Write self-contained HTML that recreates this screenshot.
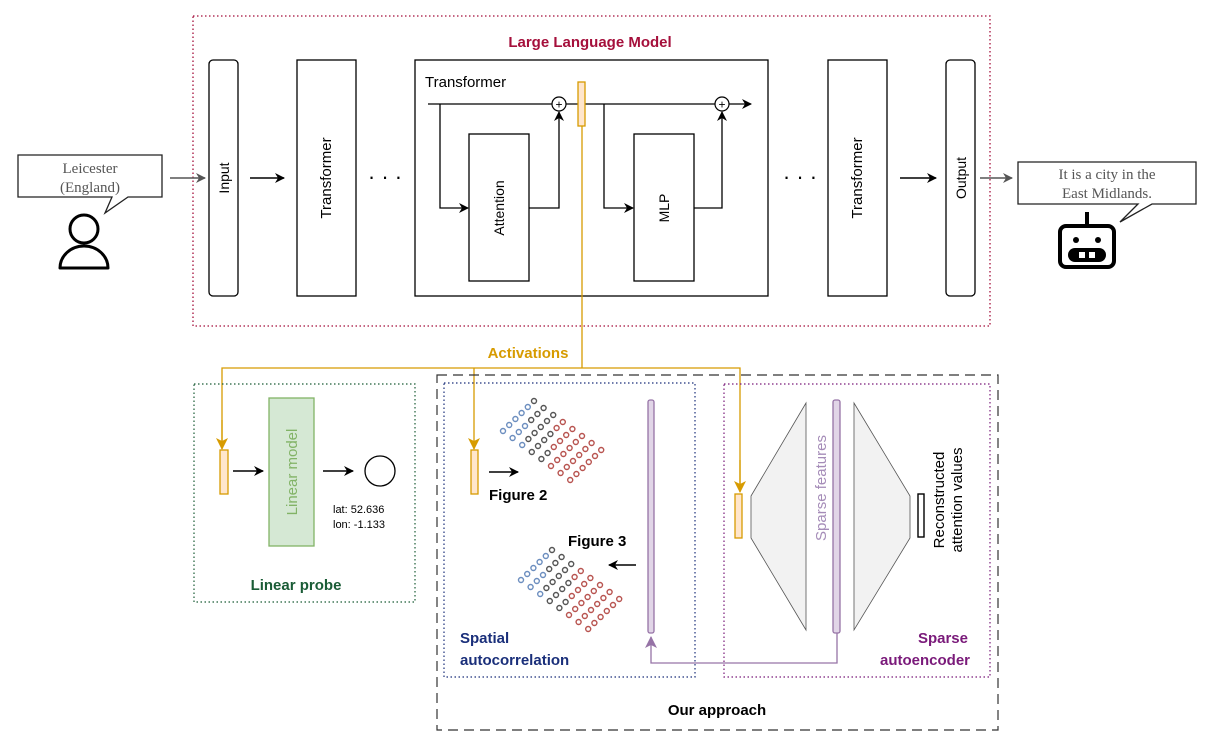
<!DOCTYPE html>
<html><head><meta charset="utf-8"><style>
html,body{margin:0;padding:0;background:#fff;}
svg{display:block;font-family:"Liberation Sans",Arial,sans-serif;}
</style></head><body>
<svg id="s" width="1214" height="749" viewBox="0 0 1214 749" xmlns="http://www.w3.org/2000/svg">
<defs>
<marker id="ab" markerWidth="10" markerHeight="10" refX="9" refY="5" orient="auto" markerUnits="userSpaceOnUse"><path d="M0,0 L10,5 L0,10 L3,5 Z" fill="#000"/></marker>
<marker id="ag" markerWidth="10" markerHeight="10" refX="9" refY="5" orient="auto" markerUnits="userSpaceOnUse"><path d="M0,0 L10,5 L0,10 L3,5 Z" fill="#555"/></marker>
<marker id="ay" markerWidth="12" markerHeight="12" refX="11" refY="6" orient="auto" markerUnits="userSpaceOnUse"><path d="M0,0 L12,6 L0,12 L3,6 Z" fill="#d79b00"/></marker>
<marker id="ap" markerWidth="12" markerHeight="12" refX="11" refY="6" orient="auto" markerUnits="userSpaceOnUse"><path d="M0,0 L12,6 L0,12 L3,6 Z" fill="#9673a6"/></marker>
</defs>

<rect x="193" y="16" width="797" height="310" fill="none" stroke="#a50f3b" stroke-width="1.3" stroke-dasharray="1.5,2.5"/>
<text x="590" y="47" text-anchor="middle" font-size="15" font-weight="bold" fill="#a50f3b">Large Language Model</text>

<rect x="209" y="60" width="29" height="236" rx="4" fill="#fff" stroke="#000" stroke-width="1.3"/>
<text transform="translate(229,178) rotate(-90)" text-anchor="middle" font-size="14">Input</text>
<rect x="297" y="60" width="59" height="236" fill="#fff" stroke="#000" stroke-width="1.3"/>
<text transform="translate(331,178) rotate(-90)" text-anchor="middle" font-size="15">Transformer</text>
<text x="385" y="184" text-anchor="middle" font-size="22">· · ·</text>
<text x="800" y="184" text-anchor="middle" font-size="22">· · ·</text>
<rect x="828" y="60" width="59" height="236" fill="#fff" stroke="#000" stroke-width="1.3"/>
<text transform="translate(862,178) rotate(-90)" text-anchor="middle" font-size="15">Transformer</text>
<rect x="946" y="60" width="29" height="236" rx="4" fill="#fff" stroke="#000" stroke-width="1.3"/>
<text transform="translate(966,178) rotate(-90)" text-anchor="middle" font-size="14">Output</text>

<line x1="170" y1="178" x2="205" y2="178" stroke="#555" stroke-width="1.5" marker-end="url(#ag)"/>
<line x1="250" y1="178" x2="284" y2="178" stroke="#000" stroke-width="1.5" marker-end="url(#ab)"/>
<line x1="900" y1="178" x2="936" y2="178" stroke="#000" stroke-width="1.5" marker-end="url(#ab)"/>
<line x1="980" y1="178" x2="1012" y2="178" stroke="#555" stroke-width="1.5" marker-end="url(#ag)"/>

<rect x="415" y="60" width="353" height="236" fill="#fff" stroke="#000" stroke-width="1.3"/>
<text x="425" y="87" font-size="15">Transformer</text>
<line x1="428" y1="104" x2="552" y2="104" stroke="#000" stroke-width="1.3"/>
<line x1="566" y1="104" x2="715" y2="104" stroke="#000" stroke-width="1.3"/>
<line x1="729" y1="104" x2="751" y2="104" stroke="#000" stroke-width="1.3" marker-end="url(#ab)"/>
<circle cx="559" cy="104" r="7" fill="#fff" stroke="#000" stroke-width="1.2"/>
<text x="559" y="108.5" text-anchor="middle" font-size="12">+</text>
<circle cx="722" cy="104" r="7" fill="#fff" stroke="#000" stroke-width="1.2"/>
<text x="722" y="108.5" text-anchor="middle" font-size="12">+</text>
<rect x="469" y="134" width="60" height="147" fill="#fff" stroke="#000" stroke-width="1.3"/>
<text transform="translate(504,208) rotate(-90)" text-anchor="middle" font-size="14">Attention</text>
<rect x="634" y="134" width="60" height="147" fill="#fff" stroke="#000" stroke-width="1.3"/>
<text transform="translate(669,208) rotate(-90)" text-anchor="middle" font-size="14">MLP</text>
<polyline points="440,104 440,208 468,208" fill="none" stroke="#000" stroke-width="1.3" marker-end="url(#ab)"/>
<polyline points="529,208 559,208 559,112" fill="none" stroke="#000" stroke-width="1.3" marker-end="url(#ab)"/>
<polyline points="604,104 604,208 633,208" fill="none" stroke="#000" stroke-width="1.3" marker-end="url(#ab)"/>
<polyline points="694,208 722,208 722,112" fill="none" stroke="#000" stroke-width="1.3" marker-end="url(#ab)"/>

<line x1="582" y1="126" x2="582" y2="368" stroke="#d79b00" stroke-width="1.3"/>
<rect x="578" y="82" width="7" height="44" fill="#ffe6cc" stroke="#d79b00" stroke-width="1.3"/>
<text x="528" y="358" text-anchor="middle" font-size="15" font-weight="bold" fill="#d79b00">Activations</text>
<polyline points="222,448 222,368 740,368 740,490" fill="none" stroke="#d79b00" stroke-width="1.3"/>
<line x1="222" y1="420" x2="222" y2="449" stroke="#d79b00" stroke-width="1.3" marker-end="url(#ay)"/>
<line x1="740" y1="460" x2="740" y2="492" stroke="#d79b00" stroke-width="1.3" marker-end="url(#ay)"/>
<line x1="474" y1="368" x2="474" y2="449" stroke="#d79b00" stroke-width="1.3" marker-end="url(#ay)"/>

<path d="M18,155 H162 V197 H128 L105,213 L112,197 H18 Z" fill="#fff" stroke="#222" stroke-width="1.3"/>
<text x="90" y="173" text-anchor="middle" font-family="Liberation Serif,serif" font-size="15" fill="#555">Leicester</text>
<text x="90" y="192" text-anchor="middle" font-family="Liberation Serif,serif" font-size="15" fill="#555">(England)</text>
<circle cx="84" cy="229" r="14" fill="#fff" stroke="#000" stroke-width="3"/>
<path d="M60,268 A24,22 0 0 1 108,268 Z" fill="#fff" stroke="#000" stroke-width="3" stroke-linejoin="round"/>

<path d="M1018,162 H1196 V204 H1152 L1120,222 L1138,204 H1018 Z" fill="#fff" stroke="#222" stroke-width="1.3"/>
<text x="1107" y="179" text-anchor="middle" font-family="Liberation Serif,serif" font-size="15" fill="#555">It is a city in the</text>
<text x="1107" y="198" text-anchor="middle" font-family="Liberation Serif,serif" font-size="15" fill="#555">East Midlands.</text>
<line x1="1087" y1="212" x2="1087" y2="226" stroke="#000" stroke-width="4"/>
<rect x="1060" y="226" width="54" height="41" rx="6" fill="#fff" stroke="#000" stroke-width="4"/>
<circle cx="1076" cy="240" r="3" fill="#000"/><circle cx="1098" cy="240" r="3" fill="#000"/>
<rect x="1068" y="248" width="38" height="14" rx="7" fill="#000"/>
<rect x="1079" y="252" width="6" height="6" fill="#fff"/><rect x="1089" y="252" width="6" height="6" fill="#fff"/>

<rect x="194" y="384" width="221" height="218" fill="none" stroke="#1a5c36" stroke-width="1.2" stroke-dasharray="1.5,2.5"/>
<rect x="220" y="450" width="8" height="44" fill="#ffe6cc" stroke="#d79b00" stroke-width="1.3"/>
<line x1="233" y1="471" x2="263" y2="471" stroke="#000" stroke-width="1.4" marker-end="url(#ab)"/>
<rect x="269" y="398" width="45" height="148" fill="#d5e8d4" stroke="#82b366" stroke-width="1.3"/>
<text transform="translate(297,472) rotate(-90)" text-anchor="middle" font-size="15" fill="#82b366">Linear model</text>
<line x1="323" y1="471" x2="353" y2="471" stroke="#000" stroke-width="1.4" marker-end="url(#ab)"/>
<circle cx="380" cy="471" r="15" fill="#fff" stroke="#000" stroke-width="1.3"/>
<text x="333" y="513" font-size="11">lat: 52.636</text>
<text x="333" y="528" font-size="11">lon: -1.133</text>
<text x="296" y="590" text-anchor="middle" font-size="15" font-weight="bold" fill="#1a5c36">Linear probe</text>

<rect x="437" y="375" width="561" height="355" fill="none" stroke="#333" stroke-width="1.2" stroke-dasharray="10,6"/>
<text x="717" y="715" text-anchor="middle" font-size="15" font-weight="bold">Our approach</text>

<rect x="444" y="383" width="251" height="294" fill="none" stroke="#1a2f7a" stroke-width="1.2" stroke-dasharray="1.5,2.5"/>
<rect x="471" y="450" width="7" height="44" fill="#ffe6cc" stroke="#d79b00" stroke-width="1.3"/>
<line x1="489" y1="472" x2="518" y2="472" stroke="#000" stroke-width="1.4" marker-end="url(#ab)"/>
<text x="489" y="500" font-size="15" font-weight="bold">Figure 2</text>
<text x="568" y="546" font-size="15" font-weight="bold">Figure 3</text>
<line x1="636" y1="565" x2="609" y2="565" stroke="#000" stroke-width="1.4" marker-end="url(#ab)"/>
<rect x="648" y="400" width="6" height="233" rx="2" fill="#e1d5e7" stroke="#9673a6" stroke-width="1.3"/>
<polyline points="837,633 837,663 651,663 651,637" fill="none" stroke="#9673a6" stroke-width="1.3" marker-end="url(#ap)"/>
<text x="460" y="643" font-size="15" font-weight="bold" fill="#1a2f7a">Spatial</text>
<text x="460" y="665" font-size="15" font-weight="bold" fill="#1a2f7a">autocorrelation</text>
<g id="dots"></g>

<rect x="724" y="384" width="266" height="293" fill="none" stroke="#7a1a7a" stroke-width="1.2" stroke-dasharray="1.5,2.5"/>
<rect x="735" y="494" width="7" height="44" fill="#ffe6cc" stroke="#d79b00" stroke-width="1.3"/>
<polygon points="751,496 806,403 806,630 751,538" fill="#f2f2f2" stroke="#555" stroke-width="0.8"/>
<polygon points="854,403 910,496 910,538 854,630" fill="#f2f2f2" stroke="#555" stroke-width="0.8"/>
<rect x="833" y="400" width="7" height="233" rx="2" fill="#e1d5e7" stroke="#9673a6" stroke-width="1.3"/>
<text transform="translate(826,488) rotate(-90)" text-anchor="middle" font-size="15" fill="#a58cb8">Sparse features</text>
<rect x="918" y="494" width="6" height="43" fill="#fff" stroke="#000" stroke-width="1.4"/>
<text transform="translate(944,500) rotate(-90)" text-anchor="middle" font-size="15">Reconstructed</text>
<text transform="translate(962,500) rotate(-90)" text-anchor="middle" font-size="15">attention values</text>
<text x="968" y="643" text-anchor="end" font-size="15" font-weight="bold" fill="#7a1a7a">Sparse</text>
<text x="970" y="665" text-anchor="end" font-size="15" font-weight="bold" fill="#7a1a7a">autoencoder</text>
</svg>
<script>
(function(){
var g=document.getElementById('dots'),h='';
function grid(ox,oy){
 for(var i=0;i<6;i++)for(var j=0;j<8;j++){
  var x=ox+i*6.2+j*9.6,y=oy-i*6+j*7;
  var s=j+i*0.5;
  var c=s<2.2?'#6c8ebf':(s<5?'#555':'#b85450');
  h+='<circle cx="'+x.toFixed(1)+'" cy="'+y.toFixed(1)+'" r="2.5" fill="#fff" stroke="'+c+'" stroke-width="1.4"/>';
 }
}
grid(503,431);grid(521,580);
g.innerHTML=h;
})();
</script>
</body></html>
